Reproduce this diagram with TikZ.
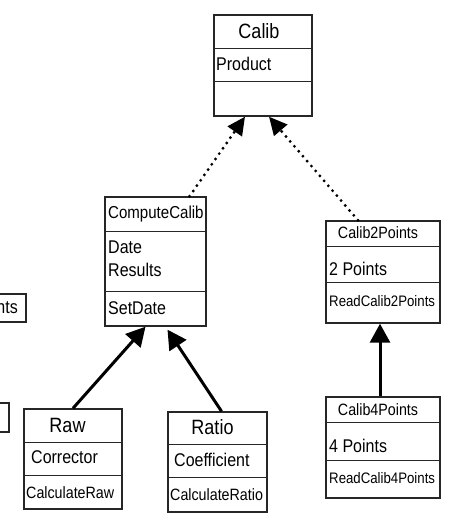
\documentclass[tikz,border=0pt]{standalone}
\usepackage{fontspec}
\setmainfont{Liberation Sans}[FakeStretch=0.87]
\usetikzlibrary{arrows.meta}

\begin{document}
\begin{tikzpicture}[x=1pt,y=-1pt]
            \tikzset{cls/.style = {shape=rectangle, draw=black!85, line width=1.4pt, inner sep=0pt}}
            \tikzset{divider/.style = {draw=black!85, line width=1.4pt}}
            \tikzset{ttl/.style = {inner sep=0pt, font=\fontsize{20.7}{22}\selectfont}}
            \tikzset{lbl/.style = {inner sep=0pt, anchor=west, font=\fontsize{18.4}{23}\selectfont, align=left}}
            \tikzset{sml/.style = {inner sep=0pt, font=\fontsize{16.4}{18}\selectfont}}
            \tikzset{inherit/.style = {draw=black, line width=3pt, -{Triangle[length=19pt,width=20pt]}}}
            \tikzset{realize/.style = {draw=black, line width=3.2pt, line cap=round, dash pattern=on 0pt off 6.5pt, -{Triangle[length=18pt,width=17pt]}}}
            \useasboundingbox (0,0) rectangle (474,526);
            \clip (0,0) rectangle (474,526);
            % classes
            \node[cls, minimum width=98pt, minimum height=101pt] (calib) at (263,65.5) {};
            \node[cls, minimum width=101pt, minimum height=129pt] (compute) at (155.5,261.5) {};
            \node[cls, minimum width=114pt, minimum height=102pt] (calibtwo) at (383,272) {};
            \node[cls, minimum width=114pt, minimum height=101pt] (calibfour) at (383,447.5) {};
            \node[cls, minimum width=98pt, minimum height=100pt] (raw) at (73,459) {};
            \node[cls, minimum width=99pt, minimum height=100pt] (ratio) at (217.5,462) {};
            \node[cls, minimum width=46pt, minimum height=28pt] (leftone) at (3,308) {};
            \node[cls, minimum width=30pt, minimum height=29pt] (lefttwo) at (-6,417.5) {};
            % compartments
            \draw[divider] ([yshift=-34pt]calib.north west) -- ([yshift=-34pt]calib.north east);
            \draw[divider] ([yshift=-67pt]calib.north west) -- ([yshift=-67pt]calib.north east);
            \draw[divider] ([yshift=-35pt]compute.north west) -- ([yshift=-35pt]compute.north east);
            \draw[divider] ([yshift=-95pt]compute.north west) -- ([yshift=-95pt]compute.north east);
            \draw[divider] ([yshift=-26pt]calibtwo.north west) -- ([yshift=-26pt]calibtwo.north east);
            \draw[divider] ([yshift=-62pt]calibtwo.north west) -- ([yshift=-62pt]calibtwo.north east);
            \draw[divider] ([yshift=-26pt]calibfour.north west) -- ([yshift=-26pt]calibfour.north east);
            \draw[divider] ([yshift=-64pt]calibfour.north west) -- ([yshift=-64pt]calibfour.north east);
            \draw[divider] ([yshift=-34pt]raw.north west) -- ([yshift=-34pt]raw.north east);
            \draw[divider] ([yshift=-67pt]raw.north west) -- ([yshift=-67pt]raw.north east);
            \draw[divider] ([yshift=-33pt]ratio.north west) -- ([yshift=-33pt]ratio.north east);
            \draw[divider] ([yshift=-66pt]ratio.north west) -- ([yshift=-66pt]ratio.north east);
            % texts
            \node[ttl] (calib-name) at (259,31) {Calib};
            \node[lbl] (calib-attr) at (216,64) {Product};
            \node[sml, anchor=west, font=\fontsize{17.3}{18}\selectfont] (compute-name) at (108,214) {ComputeCalib};
            \node[lbl] (compute-attr) at (108,258.5) {Date\\Results};
            \node[lbl] (compute-op) at (108,308) {SetDate};
            \node[sml] (calibtwo-name) at (378,233) {Calib2Points};
            \node[lbl] (calibtwo-attr) at (329,269) {2 Points};
            \node[sml, anchor=west, font=\fontsize{15.2}{16}\selectfont] (calibtwo-op) at (329,301) {ReadCalib2Points};
            \node[sml] (calibfour-name) at (378,410) {Calib4Points};
            \node[lbl] (calibfour-attr) at (329,446) {4 Points};
            \node[sml, anchor=west, font=\fontsize{15.2}{16}\selectfont] (calibfour-op) at (329,478) {ReadCalib4Points};
            \node[ttl] (raw-name) at (67.5,425) {Raw};
            \node[lbl] (raw-attr) at (31,457) {Corrector};
            \node[sml, anchor=west] (raw-op) at (26,493) {CalculateRaw};
            \node[ttl] (ratio-name) at (212.5,427) {Ratio};
            \node[lbl] (ratio-attr) at (174,460) {Coefficient};
            \node[sml, anchor=west] (ratio-op) at (170,495) {CalculateRatio};
            \node[lbl, anchor=east] (leftone-name) at (18,308) {nts};
            % edges
            \draw[inherit] (raw.north) -- ([xshift=-10pt]compute.south);
            \draw[inherit] ([xshift=4pt]ratio.north) -- ([xshift=12pt,yshift=-3pt]compute.south);
            \draw[inherit] ([xshift=-3pt]calibfour.north) -- ([xshift=-3pt]calibtwo.south);
            \draw[realize] ([xshift=34pt]compute.north) -- ([xshift=-18pt]calib.south);
            \draw[realize] ([xshift=-25pt]calibtwo.north) -- ([xshift=6pt]calib.south);
        \end{tikzpicture}
\end{document}
